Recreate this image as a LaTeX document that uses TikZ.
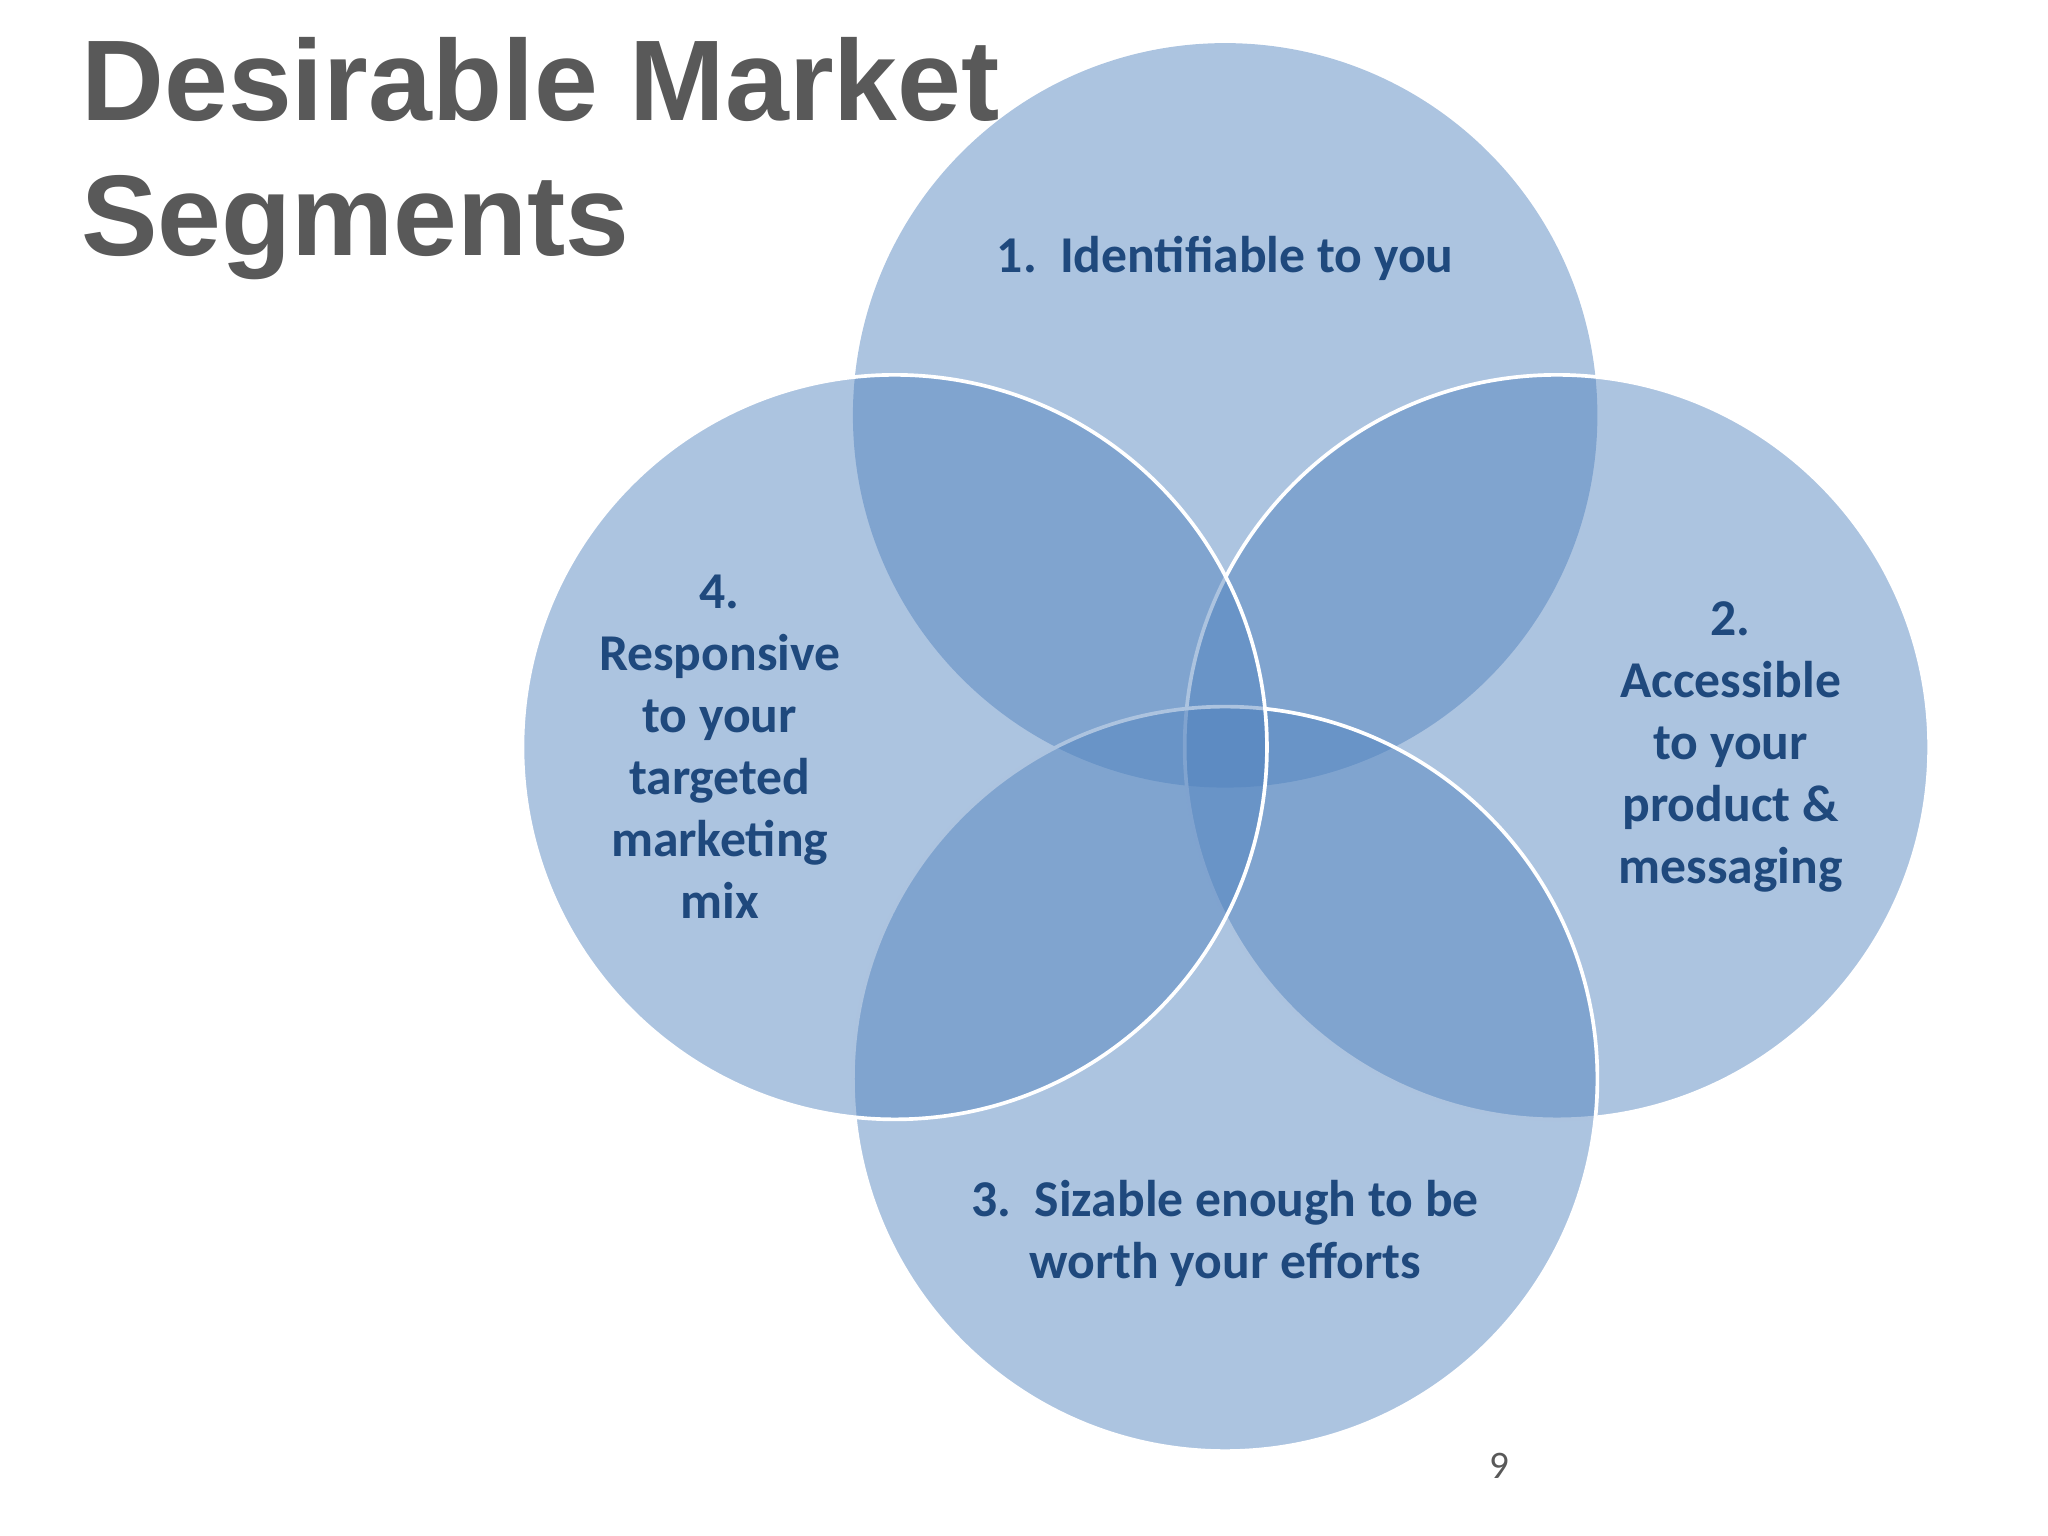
\documentclass[tikz,border=0pt]{standalone}
\usepackage{fontspec}
\setmainfont{Carlito}
\newfontfamily\titlefont{Liberation Sans}
\definecolor{cfill}{HTML}{4F81BD}
\definecolor{ctext}{HTML}{1F497D}
\definecolor{ctitle}{HTML}{595959}
\begin{document}
\begin{tikzpicture}[x=0.02cm,y=-0.02cm,
  venn/.style={fill=cfill,fill opacity=0.47},
  vline/.style={draw=white,line width=1.6pt},
  lbl/.style={text=ctext,font=\bfseries\fontsize{22.5}{27}\selectfont,align=center}]
\useasboundingbox (0,0) rectangle (1568,1176);
\fill[venn] (938,318) circle (285);
\fill[venn] (1192,572) circle (285);
\draw[vline] (1192,572) circle (285);
\fill[venn] (938,826) circle (285);
\draw[vline] (938,826) circle (285);
\fill[venn] (685,572) circle (285);
\draw[vline] (685,572) circle (285);
\node[lbl] (t1) at (938,198) {1.\ \ Identifiable to you};
\node[lbl] (t2) at (1325,572) {2.\\Accessible\\to your\\product \&\\messaging};
\node[lbl] (t3) at (938,944) {3.\ \ Sizable enough to be\\worth your efforts};
\node[lbl] (t4) at (551,572) {4.\\Responsive\\to your\\targeted\\marketing\\mix};
\node[anchor=north west,text=ctitle,font=\titlefont\bfseries\fontsize{50}{59}\selectfont,align=left,inner sep=0pt] (title) at (62,28) {Desirable Market\\Segments};
\node[text=ctitle,font=\fontsize{17}{20}\selectfont] (pg) at (1148,1122) {9};
\end{tikzpicture}
\end{document}
